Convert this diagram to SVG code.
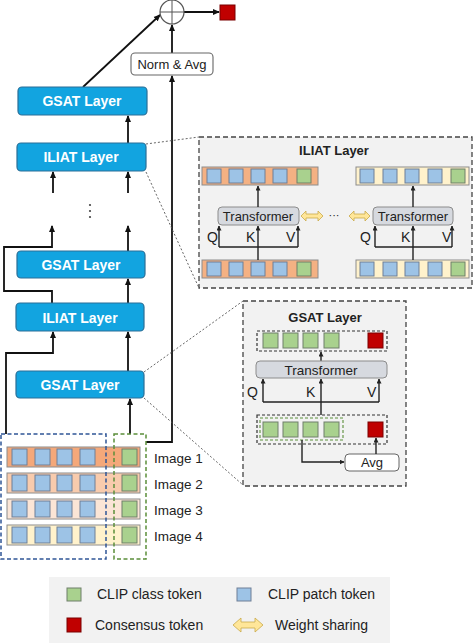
<svg xmlns="http://www.w3.org/2000/svg" width="474" height="644" viewBox="0 0 474 644">
<style>
text{font-family:"Liberation Sans",Arial,sans-serif;fill:#222}
.lay{fill:#12a4e0;stroke:#2a6f97;stroke-width:1.2}
.lt{fill:#fff;font-weight:bold;font-size:14px}
.ln{fill:none;stroke:#111;stroke-width:1.8}
.tn{fill:none;stroke:#222;stroke-width:1.4}
.dot{fill:none;stroke:#555;stroke-width:0.9;stroke-dasharray:2 2}
.blu{fill:#9dc3e6;stroke:#6f7f96;stroke-width:1}
.grn{fill:#a9d18e;stroke:#6f7f6a;stroke-width:1}
.red{fill:#c00000;stroke:#7a0000;stroke-width:1}
.row{stroke:#8c8c8c;stroke-width:1}
.tr{fill:#d6d9df;stroke:#8c8c8c;stroke-width:1}
.call{fill:#f2f2f2;stroke:#444;stroke-width:1.3;stroke-dasharray:5 3}
.dbox{fill:none;stroke:#333;stroke-width:1.2;stroke-dasharray:3 2}
.ws{fill:#ffe699;stroke:#c9a94a;stroke-width:0.8}
.img{font-size:13.5px}
.q{font-size:14px}
</style>
<defs>
<marker id="ah" markerWidth="7" markerHeight="7" refX="6" refY="3.5" orient="auto" markerUnits="userSpaceOnUse"><path d="M0,0.5 L7,3.5 L0,6.5 z" fill="#111"/></marker>
<marker id="as" markerWidth="5" markerHeight="5" refX="4.5" refY="2.5" orient="auto" markerUnits="userSpaceOnUse"><path d="M0,0 L5,2.5 L0,5 z" fill="#222"/></marker>
</defs>

<!-- connectors -->
<g id="connectors">
<line class="ln" x1="83" y1="87" x2="160" y2="15" marker-end="url(#ah)"/>
<line class="ln" x1="184" y1="12" x2="219" y2="12" marker-end="url(#ah)"/>
<line class="ln" x1="172" y1="53" x2="172" y2="25" marker-end="url(#ah)"/>
<path class="ln" d="M146,442 H172 V76" marker-end="url(#ah)"/>
<line class="ln" x1="128" y1="143" x2="128" y2="116" marker-end="url(#ah)"/>
<line class="ln" x1="53" y1="193" x2="53" y2="172" marker-end="url(#ah)"/>
<line class="ln" x1="128" y1="193" x2="128" y2="172" marker-end="url(#ah)"/>
<line class="ln" x1="128" y1="251" x2="128" y2="226" marker-end="url(#ah)"/>
<path class="ln" d="M52,303 V291 H4 V247 H52 V226" marker-end="url(#ah)"/>
<line class="ln" x1="128" y1="303" x2="128" y2="279" marker-end="url(#ah)"/>
<path class="ln" d="M6,434 V353 H53 V332" marker-end="url(#ah)"/>
<line class="ln" x1="128" y1="371" x2="128" y2="332" marker-end="url(#ah)"/>
<line class="ln" x1="130" y1="434" x2="130" y2="399" marker-end="url(#ah)"/>
<circle cx="90" cy="205" r="1.1" fill="#444"/>
<circle cx="90" cy="211" r="1.1" fill="#444"/>
<circle cx="90" cy="217" r="1.1" fill="#444"/>
<line class="dot" x1="146" y1="144" x2="199" y2="137"/>
<line class="dot" x1="146" y1="172" x2="199" y2="288"/>
<line class="dot" x1="144" y1="372" x2="243" y2="301"/>
<line class="dot" x1="144" y1="398" x2="243" y2="485"/>
</g>

<g id="sum">
<circle cx="172" cy="12" r="12" fill="#fff" stroke="#555" stroke-width="1.2"/>
<line x1="160" y1="12" x2="184" y2="12" stroke="#555" stroke-width="1"/>
<line x1="172" y1="0" x2="172" y2="24" stroke="#555" stroke-width="1"/>
</g>
<g id="out"><rect class="red" x="220" y="5" width="15" height="15"/></g>
<g id="normavg">
<rect x="131" y="53" width="82" height="22" rx="4" fill="#fff" stroke="#666" stroke-width="1.1"/>
<text x="172" y="69" font-size="13" text-anchor="middle">Norm &amp; Avg</text>
</g>

<g id="gsat_top"><rect class="lay" x="18" y="87" width="129" height="28" rx="4"/><text class="lt" x="82" y="106" text-anchor="middle">GSAT Layer</text></g>
<g id="iliat1"><rect class="lay" x="17" y="143" width="129" height="28" rx="4"/><text class="lt" x="81" y="162" text-anchor="middle">ILIAT Layer</text></g>
<g id="gsat2"><rect class="lay" x="17" y="251" width="128" height="27" rx="4"/><text class="lt" x="81" y="270" text-anchor="middle">GSAT Layer</text></g>
<g id="iliat2"><rect class="lay" x="16" y="303" width="128" height="28" rx="4"/><text class="lt" x="80" y="323" text-anchor="middle">ILIAT Layer</text></g>
<g id="gsat3"><rect class="lay" x="16" y="371" width="128" height="27" rx="4"/><text class="lt" x="80" y="390" text-anchor="middle">GSAT Layer</text></g>

<!-- input tokens -->
<g id="tokens">
<rect x="7" y="447" width="133" height="20" class="row" fill="#f4a87a"/>
<rect x="7" y="473" width="133" height="20" class="row" fill="#f8cbad"/>
<rect x="7" y="499" width="133" height="20" class="row" fill="#fbe5d6"/>
<rect x="7" y="525" width="133" height="20" class="row" fill="#fff2cc"/>
<g>
<rect class="blu" x="12" y="449" width="15" height="16"/><rect class="blu" x="35" y="449" width="15" height="16"/><rect class="blu" x="57" y="449" width="15" height="16"/><rect class="blu" x="80" y="449" width="15" height="16"/><rect class="grn" x="122" y="449" width="15" height="16"/>
<rect class="blu" x="12" y="475" width="15" height="16"/><rect class="blu" x="35" y="475" width="15" height="16"/><rect class="blu" x="57" y="475" width="15" height="16"/><rect class="blu" x="80" y="475" width="15" height="16"/><rect class="grn" x="122" y="475" width="15" height="16"/>
<rect class="blu" x="12" y="501" width="15" height="16"/><rect class="blu" x="35" y="501" width="15" height="16"/><rect class="blu" x="57" y="501" width="15" height="16"/><rect class="blu" x="80" y="501" width="15" height="16"/><rect class="grn" x="122" y="501" width="15" height="16"/>
<rect class="blu" x="12" y="527" width="15" height="16"/><rect class="blu" x="35" y="527" width="15" height="16"/><rect class="blu" x="57" y="527" width="15" height="16"/><rect class="blu" x="80" y="527" width="15" height="16"/><rect class="grn" x="122" y="527" width="15" height="16"/>
</g>
<rect x="1" y="434" width="105" height="125" fill="none" stroke="#2f5597" stroke-width="1.5" stroke-dasharray="4 2.5"/>
<rect x="114" y="434" width="32" height="125" fill="none" stroke="#5b8f3a" stroke-width="1.5" stroke-dasharray="4 2.5"/>
<text class="img" x="154" y="463">Image 1</text>
<text class="img" x="154" y="489">Image 2</text>
<text class="img" x="154" y="515">Image 3</text>
<text class="img" x="154" y="541">Image 4</text>
</g>

<!-- ILIAT callout -->
<g id="iliat_detail">
<rect class="call" x="199" y="137" width="273" height="151"/>
<text x="334" y="155" font-size="13" font-weight="bold" text-anchor="middle">ILIAT Layer</text>
<rect x="202" y="167" width="116" height="18" class="row" fill="#f4b183"/>
<rect x="356" y="167" width="113" height="18" class="row" fill="#fff2cc"/>
<rect x="202" y="260" width="116" height="18" class="row" fill="#f4b183"/>
<rect x="356" y="260" width="113" height="18" class="row" fill="#fff2cc"/>
<rect class="blu" x="207" y="169" width="14" height="14"/><rect class="blu" x="229" y="169" width="14" height="14"/><rect class="blu" x="251" y="169" width="14" height="14"/><rect class="blu" x="273" y="169" width="14" height="14"/><rect class="grn" x="297" y="169" width="14" height="14"/>
<rect class="blu" x="360" y="169" width="14" height="14"/><rect class="blu" x="383" y="169" width="14" height="14"/><rect class="blu" x="405" y="169" width="14" height="14"/><rect class="blu" x="428" y="169" width="14" height="14"/><rect class="grn" x="451" y="169" width="14" height="14"/>
<rect class="blu" x="207" y="262" width="14" height="14"/><rect class="blu" x="229" y="262" width="14" height="14"/><rect class="blu" x="251" y="262" width="14" height="14"/><rect class="blu" x="273" y="262" width="14" height="14"/><rect class="grn" x="297" y="262" width="14" height="14"/>
<rect class="blu" x="360" y="262" width="14" height="14"/><rect class="blu" x="383" y="262" width="14" height="14"/><rect class="blu" x="405" y="262" width="14" height="14"/><rect class="blu" x="428" y="262" width="14" height="14"/><rect class="grn" x="451" y="262" width="14" height="14"/>
<rect class="tr" x="218" y="207" width="81" height="18" rx="4"/>
<text x="258" y="221" font-size="13" text-anchor="middle">Transformer</text>
<rect class="tr" x="373" y="207" width="80" height="18" rx="4"/>
<text x="413" y="221" font-size="13" text-anchor="middle">Transformer</text>
<line class="tn" x1="258" y1="207" x2="258" y2="186" marker-end="url(#as)"/>
<line class="tn" x1="413" y1="207" x2="413" y2="186" marker-end="url(#as)"/>
<line class="tn" x1="258" y1="260" x2="258" y2="226" marker-end="url(#as)"/>
<path class="tn" d="M219,247 H298"/>
<line class="tn" x1="219" y1="247" x2="219" y2="226" marker-end="url(#as)"/>
<line class="tn" x1="298" y1="247" x2="298" y2="226" marker-end="url(#as)"/>
<line class="tn" x1="413" y1="260" x2="413" y2="226" marker-end="url(#as)"/>
<path class="tn" d="M375,247 H452"/>
<line class="tn" x1="375" y1="247" x2="375" y2="226" marker-end="url(#as)"/>
<line class="tn" x1="452" y1="247" x2="452" y2="226" marker-end="url(#as)"/>
<text class="q" x="207" y="242">Q</text><text class="q" x="246" y="242">K</text><text class="q" x="286" y="242">V</text>
<text class="q" x="360" y="242">Q</text><text class="q" x="401" y="242">K</text><text class="q" x="442" y="242">V</text>
<polygon class="ws" points="301,216 306,211 306,214 318,214 318,211 323,216 318,221 318,218 306,218 306,221"/>
<text x="334" y="219" font-size="11" text-anchor="middle" fill="#555">···</text>
<polygon class="ws" points="349,216 354,211 354,214 365,214 365,211 370,216 365,221 365,218 354,218 354,221"/>
</g>

<!-- GSAT callout -->
<g id="gsat_detail">
<rect class="call" x="243" y="301" width="163" height="185"/>
<text x="325" y="322" font-size="13" font-weight="bold" text-anchor="middle">GSAT Layer</text>
<rect class="dbox" x="257" y="331" width="130" height="20"/>
<rect class="grn" x="263" y="333" width="15" height="15"/><rect class="grn" x="283" y="333" width="15" height="15"/><rect class="grn" x="303" y="333" width="15" height="15"/><rect class="grn" x="324" y="333" width="15" height="15"/><rect class="red" x="368" y="333" width="15" height="15"/>
<line class="tn" x1="321" y1="361" x2="321" y2="352" marker-end="url(#as)"/>
<rect class="tr" x="256" y="361" width="131" height="17" rx="4"/>
<text x="321" y="375" font-size="13.5" text-anchor="middle">Transformer</text>
<text class="q" x="247" y="397">Q</text><text class="q" x="306" y="397">K</text><text class="q" x="367" y="397">V</text>
<line class="tn" x1="321" y1="415" x2="321" y2="379" marker-end="url(#as)"/>
<path class="tn" d="M263,402 H379"/>
<line class="tn" x1="263" y1="402" x2="263" y2="379" marker-end="url(#as)"/>
<line class="tn" x1="379" y1="402" x2="379" y2="379" marker-end="url(#as)"/>
<rect class="dbox" x="257" y="415" width="130" height="29"/>
<rect x="260" y="418" width="83" height="22" fill="none" stroke="#5b8f3a" stroke-width="1.1" stroke-dasharray="3 2"/>
<rect class="grn" x="263" y="422" width="15" height="15"/><rect class="grn" x="283" y="422" width="15" height="15"/><rect class="grn" x="303" y="422" width="15" height="15"/><rect class="grn" x="324" y="422" width="15" height="15"/><rect class="red" x="368" y="422" width="15" height="15"/>
<rect x="345" y="454" width="54" height="17" rx="4" fill="#fff" stroke="#666" stroke-width="1"/>
<text x="372" y="467" font-size="13" text-anchor="middle">Avg</text>
<path class="tn" d="M302,440 V462 H344" marker-end="url(#as)"/>
<line class="tn" x1="376" y1="454" x2="376" y2="438" marker-end="url(#as)"/>
</g>

<!-- legend -->
<g id="legend">
<rect x="49" y="577" width="341" height="66" fill="#f2f2f2"/>
<rect class="grn" x="67" y="588" width="14" height="13"/>
<text x="97" y="599" font-size="14">CLIP class token</text>
<rect class="blu" x="237" y="588" width="14" height="13"/>
<text x="268" y="599" font-size="14">CLIP patch token</text>
<rect class="red" x="67" y="618" width="14" height="14"/>
<text x="95" y="630" font-size="14">Consensus token</text>
<polygon class="ws" points="233,625 241,618 241,622 255,622 255,618 263,625 255,632 255,628 241,628 241,632"/>
<text x="275" y="630" font-size="14">Weight sharing</text>
</g>
</svg>
